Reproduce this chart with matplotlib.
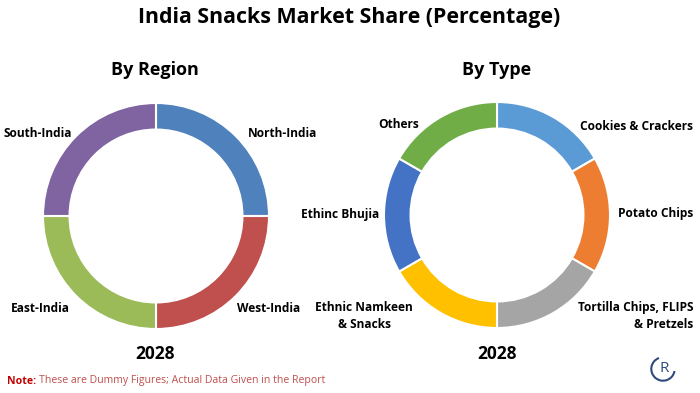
import matplotlib.pyplot as plt
from matplotlib.patches import Arc

plt.rcParams["font.family"] = ["Open Sans", "DejaVu Sans"]

# Datos (valores ficticios, todos iguales en la imagen)
regiones = ["North-India", "West-India", "East-India", "South-India"]
valores_region = [25, 25, 25, 25]
colores_region = ["#4F81BD", "#C0504D", "#9BBB59", "#8064A2"]

tipos = ["Cookies & Crackers", "Potato Chips", "Tortilla Chips, FLIPS\n& Pretzels",
         "Ethnic Namkeen\n& Snacks", "Ethinc Bhujia", "Others"]
valores_tipo = [1, 1, 1, 1, 1, 1]
colores_tipo = ["#5B9BD5", "#ED7D31", "#A5A5A5", "#FFC000", "#4472C4", "#70AD47"]

anio = "2028"

W, H = 700, 393


def px(x, y):
    return x / W, 1 - y / H


def dibujar_dona(fig, cx, cy, r, valores, colores):
    ax = fig.add_axes([(cx - r) / W, (H - cy - r) / H, 2 * r / W, 2 * r / H])
    ax.pie(
        valores,
        colors=colores,
        startangle=90,
        counterclock=False,
        radius=1,
        wedgeprops=dict(width=0.235, edgecolor="white", linewidth=1.5),
    )
    ax.set_xlim(-1, 1)
    ax.set_ylim(-1, 1)
    ax.set_aspect("equal")
    ax.axis("off")
    return ax


fig = plt.figure(figsize=(7, 3.93), dpi=100)

dibujar_dona(fig, 156, 216, 113, valores_region, colores_region)
dibujar_dona(fig, 497, 215, 113, valores_tipo, colores_tipo)

# Titulos
fig.text(*px(349, 17), "India Snacks Market Share (Percentage)", ha="center", va="center",
         fontsize=15.4, fontweight="bold")
fig.text(*px(155, 70), "By Region", ha="center", va="center", fontsize=13, fontweight="bold")
fig.text(*px(497, 70), "By Type", ha="center", va="center", fontsize=13, fontweight="bold")

# Etiquetas por region
pos_region = [(248, 133, "left"), (237, 308, "left"), (70, 308, "right"), (72, 133, "right")]
for nombre, (x, y, ha) in zip(regiones, pos_region):
    fig.text(*px(x, y), nombre, ha=ha, va="center", fontsize=8.6, fontweight="bold")

# Etiquetas por tipo
pos_tipo = [(693, 127, "right"), (693, 214, "right"), (693, 316, "right"),
            (364, 316, "center"), (379, 215, "right"), (419, 124, "right")]
for nombre, (x, y, ha) in zip(tipos, pos_tipo):
    fig.text(*px(x, y), nombre, ha=ha, va="center", fontsize=8.6, fontweight="bold",
             multialignment=ha, linespacing=1.35)

fig.text(*px(155, 354), anio, ha="center", va="center", fontsize=12.5, fontweight="bold")
fig.text(*px(497, 354), anio, ha="center", va="center", fontsize=12.5, fontweight="bold")

# Nota
t = fig.text(*px(7, 381), "Note:", ha="left", va="center", fontsize=7.6, fontweight="bold",
             color="#C00000")
fig.canvas.draw()
bb = t.get_window_extent()
fig.text(bb.x1 / W + 0.004, 1 - 381 / H, "These are Dummy Figures; Actual Data Given in the Report",
         ha="left", va="center", fontsize=7.6, color="#C0504D")

# Logo
ax_logo = fig.add_axes([650 / W, (H - 382) / H, 26 / W, 26 / H])
ax_logo.add_patch(Arc((0.5, 0.5), 0.9, 0.9, theta1=110, theta2=350, color="#2E4A7D", lw=1.5))
ax_logo.text(0.55, 0.5, "R", ha="center", va="center", fontsize=11, color="#2E4A7D")
ax_logo.set_xlim(0, 1)
ax_logo.set_ylim(0, 1)
ax_logo.set_aspect("equal")
ax_logo.axis("off")

plt.savefig("out.png", dpi=100)
